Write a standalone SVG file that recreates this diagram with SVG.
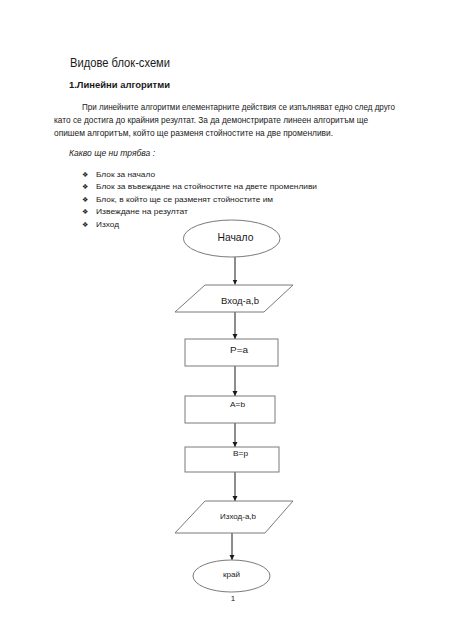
<svg xmlns="http://www.w3.org/2000/svg" width="453" height="640" viewBox="0 0 453 640">
<style>
  .doc { font-family: "Liberation Sans", "DejaVu Sans", sans-serif; fill: #1a1a1a; }
  .h1 { font-size: 12px; }
  .h2 { font-size: 9.5px; font-weight: bold; }
  .p { font-size: 8.6px; }
  .li { font-size: 7.8px; }
  .bul { font-family: "DejaVu Sans", sans-serif; font-size: 7px; fill: #1a1a1a; }
  .shape { fill: #ffffff; stroke: #7a7a7a; stroke-width: 1; }
  .lbl { font-family: "Liberation Sans", "DejaVu Sans", sans-serif; fill: #1a1a1a; text-anchor: middle; }
  .conn { stroke: #1a1a1a; stroke-width: 1; fill: none; marker-end: url(#arr); }
</style>
<defs>
  <marker id="arr" markerUnits="userSpaceOnUse" markerWidth="6" markerHeight="6" refX="5" refY="3" orient="auto">
    <path d="M0,0.5 L5,3 L0,5.5 Z" fill="#1a1a1a"/>
  </marker>
</defs>
<rect width="453" height="640" fill="#ffffff"/>

<g id="text-block">
  <text class="doc h1" x="70" y="67" textLength="100" lengthAdjust="spacingAndGlyphs">Видове блок-схеми</text>
  <text class="doc h2" x="69" y="88" textLength="101" lengthAdjust="spacingAndGlyphs">1.Линейни алгоритми</text>
  <text class="doc p" x="82" y="109.5" textLength="313" lengthAdjust="spacingAndGlyphs">При линейните алгоритми елементарните действия се изпълняват едно след друго</text>
  <text class="doc p" x="54" y="123" textLength="314" lengthAdjust="spacingAndGlyphs">като се достига до крайния резултат. За да демонстрирате линеен алгоритъм ще</text>
  <text class="doc p" x="54" y="136" textLength="279" lengthAdjust="spacingAndGlyphs">опишем алгоритъм, който ще разменя стойностите на две променливи.</text>
  <text class="doc p" x="69" y="156" font-style="italic" textLength="86" lengthAdjust="spacingAndGlyphs">Какво ще ни трябва :</text>

  <text class="bul" x="82" y="176.5">❖</text>
  <text class="bul" x="82" y="189">❖</text>
  <text class="bul" x="82" y="201.5">❖</text>
  <text class="bul" x="82" y="214">❖</text>
  <text class="bul" x="82" y="226.5">❖</text>
  <text class="doc li" x="96" y="176.5" textLength="59" lengthAdjust="spacingAndGlyphs">Блок за начало</text>
  <text class="doc li" x="96" y="189" textLength="221" lengthAdjust="spacingAndGlyphs">Блок за въвеждане на стойностите на двете променливи</text>
  <text class="doc li" x="96" y="201.5" textLength="177" lengthAdjust="spacingAndGlyphs">Блок, в който ще се разменят стойностите им</text>
  <text class="doc li" x="96" y="214" textLength="92" lengthAdjust="spacingAndGlyphs">Извеждане на резултат</text>
  <text class="doc li" x="96" y="226.5" textLength="23" lengthAdjust="spacingAndGlyphs">Изход</text>
</g>

<g id="connectors">
  <line class="conn" x1="235" y1="257" x2="235" y2="284.5"/>
  <line class="conn" x1="235" y1="312" x2="235" y2="339"/>
  <line class="conn" x1="235" y1="366" x2="235" y2="396"/>
  <line class="conn" x1="235" y1="423" x2="235" y2="447"/>
  <line class="conn" x1="235" y1="472" x2="235" y2="501"/>
  <line class="conn" x1="232" y1="533" x2="232" y2="560"/>
</g>

<g id="node-start">
  <ellipse class="shape" cx="231.7" cy="238.5" rx="48.3" ry="18.5"/>
  <text class="lbl" x="235.5" y="240.5" font-size="11" textLength="36" lengthAdjust="spacingAndGlyphs">Начало</text>
</g>

<g id="node-input">
  <polygon class="shape" points="205,285 293,285 264,312 175,312"/>
  <text class="lbl" x="240" y="304" font-size="9" textLength="38" lengthAdjust="spacingAndGlyphs">Вход-a,b</text>
</g>

<g id="node-p">
  <rect class="shape" x="185" y="339" width="93" height="27"/>
  <text class="lbl" x="239" y="353" font-size="8.5" textLength="18" lengthAdjust="spacingAndGlyphs">P=a</text>
</g>

<g id="node-a">
  <rect class="shape" x="185" y="396" width="90" height="27"/>
  <text class="lbl" x="237.5" y="407" font-size="7.5" textLength="15" lengthAdjust="spacingAndGlyphs">A=b</text>
</g>

<g id="node-b">
  <rect class="shape" x="185" y="447" width="94" height="25"/>
  <text class="lbl" x="240.5" y="456" font-size="7.5" textLength="15" lengthAdjust="spacingAndGlyphs">B=p</text>
</g>

<g id="node-output">
  <polygon class="shape" points="205,501 293,501 265,533 175,533"/>
  <text class="lbl" x="238" y="519" font-size="8" textLength="36" lengthAdjust="spacingAndGlyphs">Изход-a,b</text>
</g>

<g id="node-end">
  <ellipse class="shape" cx="231.5" cy="576" rx="38.5" ry="16"/>
  <text class="lbl" x="231.5" y="576.5" font-size="8" textLength="17" lengthAdjust="spacingAndGlyphs">край</text>
</g>

<text class="lbl" x="233" y="601" font-size="8">1</text>
</svg>
